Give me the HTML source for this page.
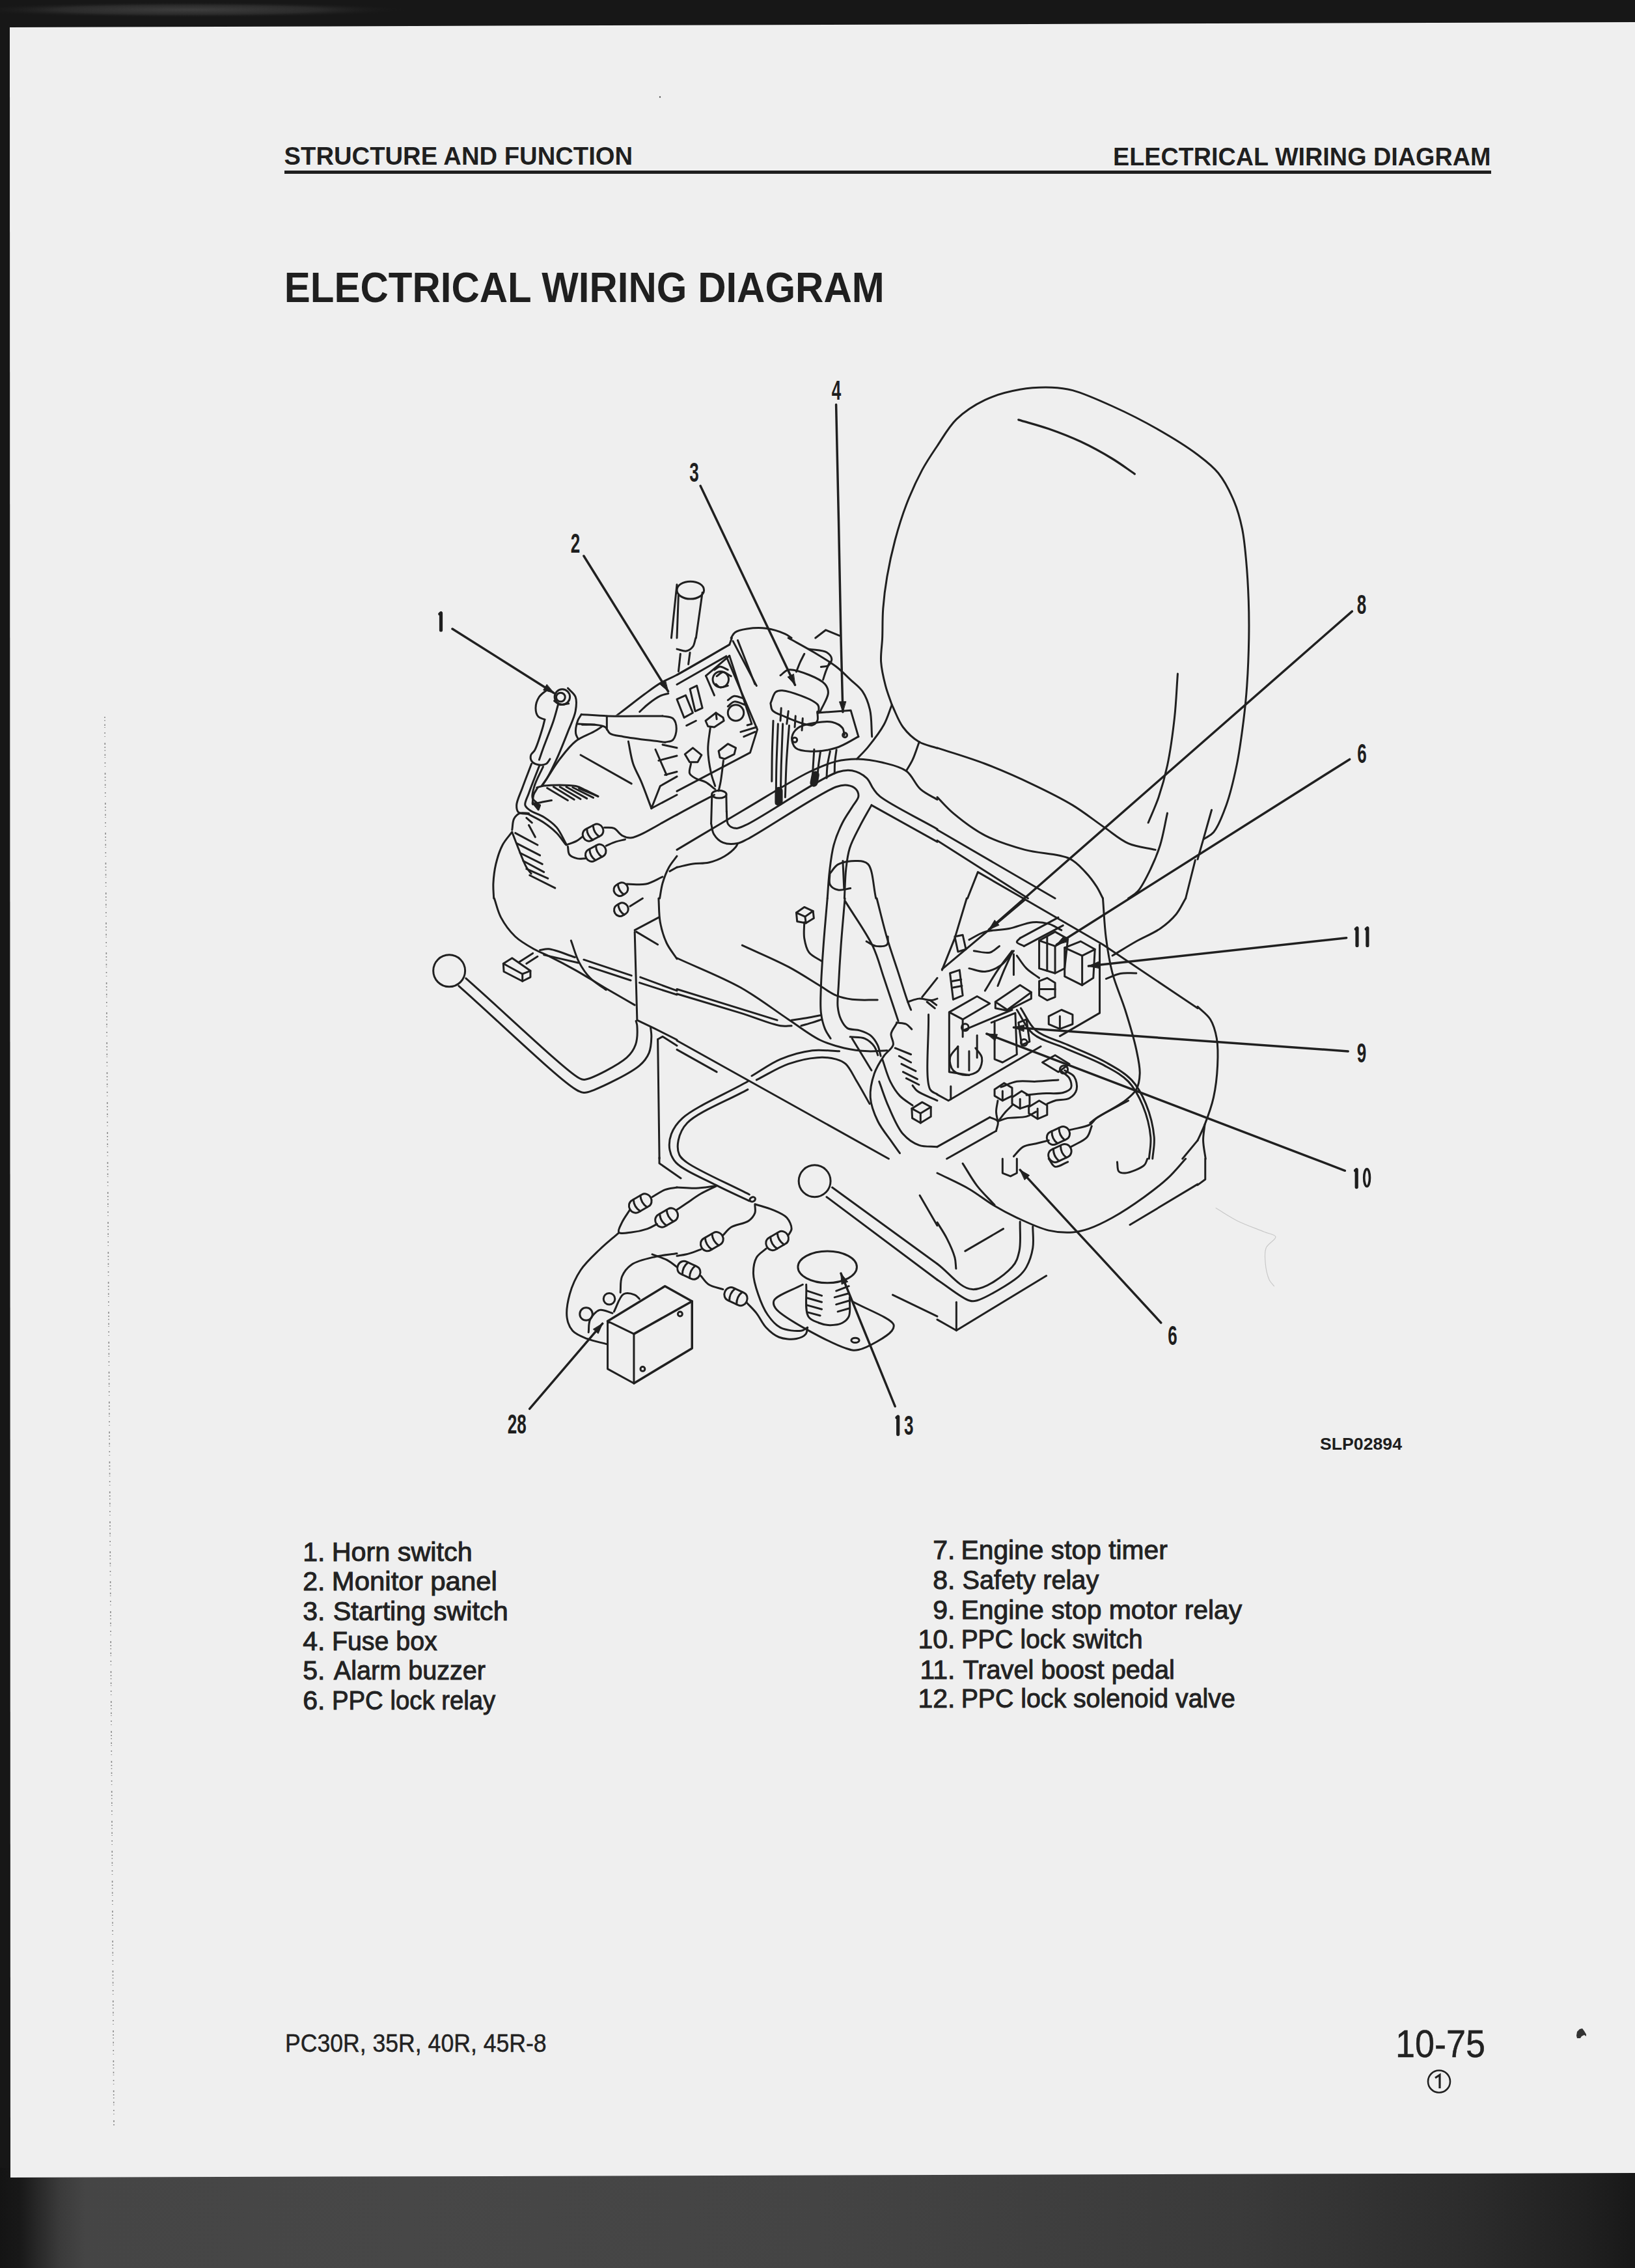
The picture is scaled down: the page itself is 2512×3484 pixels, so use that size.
<!DOCTYPE html>
<html><head><meta charset="utf-8">
<style>
html,body{margin:0;padding:0;}
body{width:2512px;height:3484px;position:relative;overflow:hidden;background:#171717;font-family:"Liberation Sans",sans-serif;color:#1f1f1f;}
#bg{position:absolute;left:0;top:0;}
.t{position:absolute;white-space:nowrap;line-height:1;}
.hb{font-weight:bold;font-size:37px;}
.title{font-weight:bold;font-size:61px;}
.leg{font-size:39px;}
.leg div{position:absolute;white-space:nowrap;}
.num{text-align:right;}
#diag *{vector-effect:non-scaling-stroke;}
</style></head>
<body>
<svg id="bg" width="2512" height="3484" viewBox="0 0 2512 3484">
<defs>
<linearGradient id="bot" x1="0" y1="0" x2="2512" y2="0" gradientUnits="userSpaceOnUse">
<stop offset="0" stop-color="#141414"/>
<stop offset="0.012" stop-color="#181818"/>
<stop offset="0.036" stop-color="#3a3a3a"/>
<stop offset="0.052" stop-color="#454545"/>
<stop offset="0.25" stop-color="#474747"/>
<stop offset="0.5" stop-color="#444444"/>
<stop offset="0.76" stop-color="#3a3a3a"/>
<stop offset="0.9" stop-color="#2c2c2c"/>
<stop offset="0.97" stop-color="#202020"/>
<stop offset="1" stop-color="#181818"/>
</linearGradient>
<radialGradient id="glare"><stop offset="0" stop-color="#3e3e3e"/><stop offset="0.6" stop-color="#2a2a2a"/><stop offset="1" stop-color="#171717" stop-opacity="0"/></radialGradient>
<linearGradient id="topg" x1="0" y1="0" x2="2512" y2="0" gradientUnits="userSpaceOnUse">
<stop offset="0" stop-color="#161616"/>
<stop offset="0.05" stop-color="#1c1c1c"/>
<stop offset="0.2" stop-color="#262626"/>
<stop offset="0.4" stop-color="#1c1c1c"/>
<stop offset="1" stop-color="#161616"/>
</linearGradient>
</defs>
<rect x="0" y="3330" width="2512" height="154" fill="url(#bot)"/>
<rect x="0" y="0" width="2512" height="42" fill="#171717"/>
<ellipse cx="290" cy="15" rx="340" ry="12" fill="url(#glare)"/>
<polygon points="15,42 2512,34 2512,3338 16,3345" fill="#efefef"/>
<path d="M161 1101 L175 3265" stroke="#3a3a3a" stroke-width="1.6" stroke-dasharray="2 3 1.5 5 2.5 2 1 7 2 4 1 9 3 3" opacity="0.55"/>

<g id="hdr" font-family="Liberation Sans" font-weight="bold" fill="#1f1f1f">
<text x="0" y="0" font-size="38" transform="translate(436.6 253) scale(1.0057 1)">STRUCTURE AND FUNCTION</text>
<text x="1710" y="253.6" font-size="38" transform="translate(1713 0) scale(0.994 1) translate(-1713 0)">ELECTRICAL WIRING DIAGRAM</text>
<rect x="437" y="262" width="1854" height="5"/>
<text x="0" y="0" font-size="64" transform="translate(436.8 463.9) scale(0.9374 1)">ELECTRICAL WIRING DIAGRAM</text>
</g>
<g id="legend" font-family="Liberation Sans" font-size="41" fill="#222" stroke="#222" stroke-width="1.0">
<text x="499.5" y="2397.5" text-anchor="end">1.</text><text transform="translate(509.77 2397.5) scale(1.0087 1)">Horn switch</text>
<text x="499.5" y="2442.8" text-anchor="end">2.</text><text transform="translate(509.73 2442.8) scale(1.0236 1)">Monitor panel</text>
<text x="499.5" y="2488.7" text-anchor="end">3.</text><text transform="translate(511.79 2488.7) scale(1.0088 1)">Starting switch</text>
<text x="499.5" y="2534.5" text-anchor="end">4.</text><text transform="translate(509.92 2534.5) scale(0.9600 1)">Fuse box</text>
<text x="499.5" y="2579.8" text-anchor="end">5.</text><text transform="translate(512.80 2579.8) scale(0.9658 1)">Alarm buzzer</text>
<text x="499.5" y="2625.7" text-anchor="end">6.</text><text transform="translate(510.00 2625.7) scale(0.9347 1)">PPC lock relay</text>
<text x="1467.4" y="2395" text-anchor="end">7.</text><text transform="translate(1476.52 2395) scale(0.9946 1)">Engine stop timer</text>
<text x="1467.4" y="2441" text-anchor="end">8.</text><text transform="translate(1478.53 2441) scale(0.9688 1)">Safety relay</text>
<text x="1467.4" y="2487" text-anchor="end">9.</text><text transform="translate(1476.51 2487) scale(0.9972 1)">Engine stop motor relay</text>
<text x="1467.4" y="2532.4" text-anchor="end">10.</text><text transform="translate(1476.65 2532.4) scale(0.9497 1)">PPC lock switch</text>
<text x="1467.4" y="2578.5" text-anchor="end">11.</text><text transform="translate(1479.50 2578.5) scale(0.9694 1)">Travel boost pedal</text>
<text x="1467.4" y="2623" text-anchor="end">12.</text><text transform="translate(1476.63 2623) scale(0.9579 1)">PPC lock solenoid valve</text>
</g>
<g id="foot" font-family="Liberation Sans" fill="#222" stroke="#222" stroke-width="0.5">
<text x="0" y="0" font-size="39" transform="translate(438 3151.7) scale(0.913 1)">PC30R, 35R, 40R, 45R-8</text>
<text x="0" y="0" font-size="59.6" transform="translate(2144 3160) scale(0.906 1)">10-75</text>
</g>
<circle cx="2211" cy="3197.5" r="17" fill="none" stroke="#222" stroke-width="2.6"/>
<path d="M2205 3192 L2212 3187.5 L2212 3208" fill="none" stroke="#222" stroke-width="3.2"/>
<g id="labels" font-family="Liberation Sans" font-weight="bold" font-size="42" fill="#1e1e1e" text-anchor="middle">
<text transform="translate(884 849) scale(0.62 1)">2</text>
<text transform="translate(1066.6 740) scale(0.62 1)">3</text>
<text transform="translate(1285 614) scale(0.62 1)">4</text>
<text transform="translate(2092 943) scale(0.62 1)">8</text>
<text transform="translate(2092.5 1172) scale(0.62 1)">6</text>
<text transform="translate(2092 1632) scale(0.62 1)">9</text>
<text transform="translate(1801.5 2066) scale(0.62 1)">6</text>
<text transform="translate(794.3 2202) scale(0.62 1)">28</text>
<text transform="translate(1396.2 2204.3) scale(0.62 1)">3</text>
<text x="2028" y="2227" font-size="26" text-anchor="start" textLength="126" lengthAdjust="spacingAndGlyphs">SLP02894</text>
<g stroke="#1e1e1e" stroke-width="5.2" fill="none" stroke-linecap="round" stroke-linejoin="round">
<path d="M675.9 943.2 L677.5 941.8 L677.5 968.0"/>
<path d="M2083.4 1427.2 L2085.0 1425.8 L2085.0 1452.5"/>
<path d="M2099.3 1427.2 L2100.9 1425.8 L2100.9 1452.5"/>
<path d="M2082.6 1798.2 L2084.2 1796.8 L2084.2 1823.6"/>
<path d="M1378.1 2177.7 L1379.7 2176.3 L1379.7 2203.3"/>
<ellipse cx="2100.1" cy="1809.2" rx="4.4" ry="13.3" stroke-width="3.6"/>
</g>
</g>
<path d="M2423 3121 L2427 3117 L2431 3116 L2434 3120 L2437 3125 L2437 3128 L2434 3126 L2430 3128 L2428 3131 L2423 3131 L2422 3127 Z" fill="#333"/>
<circle cx="1014" cy="149" r="1.2" fill="#555"/>
<g id="diag" fill="none" stroke="#202020" stroke-linecap="round" stroke-linejoin="round">
<g transform="translate(0 0) scale(1.000000)">
<path d="M1370.3 1082.8 C1367.0 1073.0 1363.2 1063.8 1360.5 1053.4 C1357.5 1041.9 1354.4 1029.0 1353.6 1016.7 C1352.8 1004.5 1355.1 992.9 1355.6 980.0 C1356.2 965.7 1355.6 950.1 1356.8 934.7 C1358.0 918.7 1360.0 902.6 1362.9 885.8 C1366.0 867.6 1370.3 847.9 1375.2 829.5 C1380.1 811.2 1385.5 793.4 1392.3 775.7 C1399.3 757.6 1408.2 737.9 1416.8 721.9 C1424.2 708.2 1431.6 697.5 1440.0 685.0 C1449.0 671.6 1457.4 655.8 1469.4 644.1 C1481.7 632.1 1497.4 621.9 1513.4 614.3 C1529.9 606.5 1549.5 601.4 1567.2 598.3 C1583.7 595.4 1601.6 594.7 1616.1 595.2 C1627.9 595.6 1635.9 596.4 1648.0 599.6 C1665.3 604.2 1688.4 614.6 1709.1 624.0 C1731.5 634.1 1755.6 646.2 1777.6 658.8 C1799.2 671.1 1823.1 685.7 1840.0 698.5 C1852.8 708.2 1862.7 715.4 1871.8 726.8 C1881.7 739.2 1890.1 756.0 1896.3 770.8 C1902.1 784.5 1905.5 797.8 1908.5 812.4 C1911.7 827.9 1913.0 844.1 1914.6 861.3 C1916.4 880.5 1917.6 902.4 1918.3 922.5 C1919.0 942.0 1919.1 959.7 1918.8 980.0 C1918.4 1003.0 1917.4 1030.9 1915.8 1053.4 C1914.5 1072.7 1912.9 1088.2 1910.5 1107.2 C1907.8 1128.7 1904.6 1153.6 1900.0 1175.7 C1895.6 1196.8 1890.6 1218.7 1884.0 1236.9 C1878.4 1252.4 1871.8 1269.8 1864.5 1278.5 C1859.9 1283.9 1854.7 1285.4 1849.8 1288.8" stroke-width="3.0"/>
<path d="M832.0 1207.5 C834.9 1203.4 837.2 1200.3 840.6 1195.3 C845.8 1187.6 852.9 1175.3 860.2 1165.9 C867.6 1156.3 875.2 1145.9 884.6 1138.5 C894.0 1131.1 905.9 1128.3 916.7 1121.5 C928.8 1113.9 941.2 1103.7 953.4 1094.6 C965.7 1085.4 979.0 1074.6 990.1 1066.5 C999.0 1060.0 1006.2 1054.4 1014.6 1049.4 C1022.8 1044.5 1029.3 1042.5 1040.0 1036.8 C1059.5 1026.4 1093.8 1005.8 1120.7 990.3" stroke-width="3.0"/>
<path d="M982.8 1093.4 C987.3 1089.3 991.2 1085.1 996.2 1081.2 C1001.7 1076.9 1008.9 1071.6 1014.6 1068.9 C1018.9 1066.9 1022.7 1066.5 1026.8 1065.3" stroke-width="3.0"/>
<path d="M1148.9 1661.3 C1115.5 1680.1 1067.3 1700.7 1048.6 1717.6 C1039.0 1726.2 1034.6 1733.5 1031.4 1742.1 C1028.5 1749.9 1027.6 1759.0 1029.0 1766.5 C1030.3 1773.6 1032.6 1779.6 1038.8 1786.1 C1049.9 1797.7 1080.2 1810.2 1099.9 1820.4 C1117.6 1829.6 1134.2 1836.7 1151.3 1844.8" stroke-width="3.0"/>
<path d="M1148.9 1673.6 C1117.9 1690.7 1072.3 1708.1 1055.9 1725.0 C1047.2 1734.0 1044.0 1743.1 1042.2 1751.9 C1040.7 1759.4 1041.0 1768.0 1043.7 1773.9 C1046.1 1779.1 1049.3 1781.3 1055.9 1786.1 C1072.2 1798.0 1119.5 1818.7 1151.3 1835.0" stroke-width="3.0"/>
<path d="M1013.0 1778.0 L1013.0 1787.0 L1046.0 1810.0" stroke-width="3.0"/>
<path d="M2077.3 939.1 L1519.5 1427.7" stroke-width="3.5"/>
<path d="M1519.5 1427.7 L1528.2 1413.4 L1534.8 1420.9 Z" fill="#202020" stroke-width="1"/>
<path d="M2073.6 1166.4 L1623.5 1450.9" stroke-width="3.5"/>
<path d="M1623.5 1450.9 L1634.4 1438.1 L1639.7 1446.6 Z" fill="#202020" stroke-width="1"/>
<path d="M2066.3 1798.3 L1515.8 1588.0" stroke-width="3.5"/>
<path d="M1515.8 1588.0 L1532.5 1589.0 L1529.0 1598.4 Z" fill="#202020" stroke-width="1"/>
<path d="M2071.2 1614.9 L1557.4 1578.2" stroke-width="3.5"/>
<path d="M1557.4 1578.2 L1573.7 1574.4 L1573.0 1584.3 Z" fill="#202020" stroke-width="1"/>
<path d="M2068.7 1440.7 L1672.4 1484.0" stroke-width="3.5"/>
<path d="M1672.4 1484.0 L1687.8 1477.3 L1688.8 1487.2 Z" fill="#202020" stroke-width="1"/>
<path d="M1284.6 621.6 L1288.5 800.0 L1292.0 980.0 L1294.9 1093.8" stroke-width="3.5"/>
<path d="M1294.9 1093.8 L1289.5 1077.9 L1299.5 1077.7 Z" fill="#202020" stroke-width="1"/>
<path d="M1076.2 746.4 L1221.5 1052.2" stroke-width="3.5"/>
<path d="M1221.5 1052.2 L1210.1 1039.9 L1219.1 1035.6 Z" fill="#202020" stroke-width="1"/>
<path d="M896.9 854.0 L1026.5 1062.0" stroke-width="3.5"/>
<path d="M1026.5 1062.0 L1013.8 1051.1 L1022.3 1045.8 Z" fill="#202020" stroke-width="1"/>
<path d="M695.0 966.0 L850.9 1064.4" stroke-width="3.5"/>
<path d="M850.9 1064.4 L834.7 1060.1 L840.0 1051.6 Z" fill="#202020" stroke-width="1"/>
</g>
<g transform="translate(1040 1380) scale(0.244648)">
<path d="M750.0 90.0 L800.0 55.0 L855.0 80.0 L860.0 125.0 L810.0 155.0 L755.0 145.0 Z" stroke-width="3.0"/>
<path d="M750.0 90.0 L805.0 115.0 L855.0 80.0" stroke-width="3.0"/>
<path d="M805.0 115.0 L810.0 155.0" stroke-width="3.0"/>
<path d="M800.0 150.0 C800.0 183.3 794.8 217.9 800.0 250.0 C805.1 281.2 811.9 315.9 830.0 340.0 C848.3 364.4 883.3 376.7 910.0 395.0" stroke-width="3.0"/>
<path d="M945.0 0.0 C936.7 100.0 926.8 204.5 920.0 300.0 C913.8 387.1 907.3 474.6 905.0 550.0 C903.1 612.1 899.0 671.1 905.0 720.0 C909.7 758.1 918.4 791.6 930.0 820.0 C939.5 843.3 953.3 860.0 965.0 880.0" stroke-width="3.0"/>
<path d="M1055.0 0.0 C1046.7 100.0 1036.8 204.5 1030.0 300.0 C1023.8 387.1 1018.4 480.2 1015.0 550.0 C1012.5 600.3 1006.1 642.1 1010.0 680.0 C1013.1 710.1 1019.1 736.7 1030.0 760.0 C1039.9 781.1 1051.4 803.2 1070.0 815.0 C1090.4 827.9 1125.2 822.1 1150.0 830.0 C1173.3 837.4 1196.8 845.3 1215.0 860.0 C1233.6 875.1 1249.1 898.1 1260.0 920.0 C1270.7 941.5 1273.3 966.7 1280.0 990.0" stroke-width="3.0"/>
<path d="M1058.0 20.0 C1115.3 113.3 1188.3 212.4 1230.0 300.0 C1263.4 370.4 1275.5 428.2 1300.0 500.0 C1328.4 583.2 1360.0 680.0 1390.0 770.0" stroke-width="3.0"/>
<path d="M1255.0 0.0 C1276.7 83.3 1297.1 171.6 1320.0 250.0 C1340.7 320.7 1363.3 383.3 1385.0 450.0 C1406.7 516.7 1434.0 605.7 1450.0 650.0 C1458.1 672.4 1463.3 683.3 1470.0 700.0" stroke-width="3.0"/>
<path d="M1190.0 270.0 C1210.0 280.0 1228.7 296.5 1250.0 300.0 C1271.9 303.6 1308.3 302.3 1320.0 290.0 C1329.9 279.7 1323.3 256.7 1325.0 240.0" stroke-width="3.0"/>
<path d="M410.0 295.0 C506.7 340.0 613.4 384.0 700.0 430.0 C774.0 469.3 844.8 516.9 900.0 550.0 C939.1 573.4 965.6 595.7 1000.0 610.0 C1032.4 623.4 1062.5 630.0 1100.0 635.0 C1146.8 641.2 1206.7 637.0 1260.0 638.0" stroke-width="3.0"/>
<path d="M0.0 375.0 C133.3 436.7 278.6 492.0 400.0 560.0 C509.8 621.5 609.9 700.7 700.0 760.0 C773.2 808.2 836.2 859.3 900.0 890.0 C951.9 915.0 999.4 928.3 1050.0 940.0 C1099.5 951.4 1152.7 957.8 1200.0 960.0 C1242.1 961.9 1280.0 956.7 1320.0 955.0" stroke-width="3.0"/>
<path d="M0.0 570.0 L630.0 765.0" stroke-width="3.0"/>
<path d="M0.0 600.0 C133.3 640.0 282.4 683.5 400.0 720.0 C493.2 748.9 591.8 790.9 650.0 800.0 C680.0 804.7 696.7 800.0 720.0 800.0" stroke-width="3.0"/>
<path d="M720.0 765.0 C753.3 760.0 788.6 755.3 820.0 750.0 C848.2 745.2 873.3 740.0 900.0 735.0" stroke-width="3.0"/>
<path d="M780.0 800.0 C803.3 793.3 827.6 786.9 850.0 780.0 C870.8 773.6 890.0 766.7 910.0 760.0" stroke-width="3.0"/>
<path d="M0.0 893.0 L1330.0 1635.0" stroke-width="3.0"/>
<path d="M0.0 950.0 L250.0 1090.0" stroke-width="3.0"/>
<path d="M470.0 1115.0 C530.0 1080.0 586.6 1036.7 650.0 1010.0 C713.3 983.4 785.5 962.7 850.0 955.0 C908.4 948.0 963.3 958.3 1020.0 960.0" stroke-width="3.0"/>
<path d="M500.0 1140.0 C566.7 1106.7 633.6 1063.6 700.0 1040.0 C760.3 1018.6 825.8 1003.7 880.0 1000.0 C923.8 997.0 967.6 1000.9 1000.0 1010.0 C1024.2 1016.8 1041.4 1023.2 1060.0 1040.0 C1086.0 1063.4 1106.4 1110.8 1130.0 1150.0 C1156.3 1193.6 1183.3 1243.3 1210.0 1290.0" stroke-width="3.0"/>
<path d="M1088.0 870.0 C1118.7 873.3 1154.0 868.9 1180.0 880.0 C1203.9 890.2 1226.2 911.0 1240.0 930.0 C1252.0 946.6 1254.7 966.7 1262.0 985.0" stroke-width="3.0"/>
<path d="M1100.0 880.0 L1222.0 1080.0" stroke-width="3.0"/>
<path d="M1380.0 785.0 C1368.3 806.7 1348.6 827.3 1345.0 850.0 C1341.5 872.3 1363.7 897.9 1358.0 920.0 C1351.5 944.9 1318.3 963.0 1300.0 990.0 C1278.5 1021.7 1254.1 1059.2 1240.0 1100.0 C1224.5 1145.0 1211.6 1200.4 1215.0 1250.0 C1218.5 1300.4 1239.5 1353.3 1262.0 1400.0 C1284.5 1446.6 1324.6 1493.5 1350.0 1530.0 C1368.8 1557.1 1383.3 1576.7 1400.0 1600.0" stroke-width="3.0"/>
<path d="M1370.0 940.0 L1470.0 980.0" stroke-width="3.0"/>
<path d="M1395.0 990.0 L1470.0 1030.0" stroke-width="3.0"/>
<path d="M1410.0 1040.0 L1500.0 1085.0" stroke-width="3.0"/>
<path d="M1420.0 1090.0 L1510.0 1135.0" stroke-width="3.0"/>
<path d="M1440.0 1130.0 L1520.0 1170.0" stroke-width="3.0"/>
<path d="M1290.0 1010.0 C1306.7 1056.7 1319.7 1109.5 1340.0 1150.0 C1357.3 1184.5 1376.1 1214.7 1400.0 1240.0 C1423.0 1264.3 1453.3 1280.0 1480.0 1300.0" stroke-width="3.0"/>
<path d="M1270.0 1150.0 C1290.0 1203.3 1306.0 1256.6 1330.0 1310.0 C1355.5 1366.6 1383.4 1438.6 1420.0 1480.0 C1449.1 1513.0 1483.6 1536.8 1520.0 1550.0 C1555.4 1562.9 1596.7 1556.7 1635.0 1560.0" stroke-width="3.0"/>
<path d="M1475.0 1320.0 L1540.0 1280.0 L1595.0 1310.0 L1595.0 1370.0 L1530.0 1410.0 L1478.0 1380.0 Z" stroke-width="3.0"/>
<path d="M1475.0 1320.0 L1530.0 1350.0 L1595.0 1310.0" stroke-width="3.0"/>
<path d="M1530.0 1350.0 L1530.0 1410.0" stroke-width="3.0"/>
<path d="M1580.0 730.0 C1583.3 886.7 1556.1 1138.3 1590.0 1200.0 C1601.5 1220.9 1620.0 1220.0 1635.0 1230.0" stroke-width="3.0"/>
<path d="M1480.0 1175.0 C1490.0 1186.7 1494.9 1198.4 1510.0 1210.0 C1536.2 1230.1 1593.3 1250.0 1635.0 1270.0" stroke-width="3.0"/>
<path d="M1450.0 650.0 C1473.3 643.3 1495.7 631.9 1520.0 630.0 C1545.6 628.0 1578.9 641.6 1600.0 640.0 C1614.2 638.9 1623.3 633.3 1635.0 630.0" stroke-width="3.0"/>
<path d="M1540.0 620.0 L1635.0 500.0" stroke-width="3.0"/>
<path d="M1380.0 780.0 C1400.0 783.3 1423.6 782.0 1440.0 790.0 C1454.5 797.0 1463.3 811.3 1475.0 822.0" stroke-width="3.0"/>
<path d="M1570.0 650.0 L1620.0 690.0" stroke-width="3.0"/>
<path d="M1590.0 640.0 L1630.0 670.0" stroke-width="3.0"/>
</g>
<g transform="translate(1040 1780) scale(0.244648)">
<ellipse cx="475.0" cy="255.0" rx="18.0" ry="14.0" transform="rotate(-25.0 475.0 255.0)" stroke-width="3.0"/>
<path d="M490.0 285.0 C526.7 296.7 565.9 305.3 600.0 320.0 C632.2 333.9 669.9 347.7 690.0 370.0 C707.3 389.2 720.6 420.0 720.0 440.0 C719.6 455.3 706.7 466.7 700.0 480.0" stroke-width="3.0"/>
<g transform="translate(630.0 515.0) rotate(-30.0)"><rect x="-75.0" y="-42.5" width="150.0" height="85.0" rx="38.63636363636363" ry="42.5" stroke-width="3.0"/><path d="M-25.0 -42.5 Q-46.25 0 -25.0 42.5" stroke-width="3.0"/><path d="M25.0 -42.5 Q3.75 0 25.0 42.5" stroke-width="3.0"/></g>
<path d="M560.0 565.0 C540.0 583.3 513.4 596.3 500.0 620.0 C485.0 646.6 479.5 684.5 480.0 720.0 C480.6 760.6 495.4 807.4 510.0 850.0 C525.1 894.1 544.7 943.7 570.0 980.0 C592.5 1012.2 616.8 1043.2 650.0 1060.0 C685.8 1078.1 749.6 1084.8 780.0 1080.0 C797.7 1077.2 806.7 1066.7 820.0 1060.0" stroke-width="3.0"/>
<path d="M490.0 290.0 C490.0 306.7 495.5 324.2 490.0 340.0 C483.7 357.8 469.2 376.2 450.0 390.0 C424.0 408.6 368.1 412.1 340.0 430.0 C318.2 443.9 306.7 463.3 290.0 480.0" stroke-width="3.0"/>
<g transform="translate(220.0 520.0) rotate(-30.0)"><rect x="-75.0" y="-42.5" width="150.0" height="85.0" rx="38.63636363636363" ry="42.5" stroke-width="3.0"/><path d="M-25.0 -42.5 Q-46.25 0 -25.0 42.5" stroke-width="3.0"/><path d="M25.0 -42.5 Q3.75 0 25.0 42.5" stroke-width="3.0"/></g>
<path d="M150.0 570.0 C120.0 580.0 87.2 593.2 60.0 600.0 C38.2 605.4 20.0 606.7 0.0 610.0" stroke-width="3.0"/>
<path d="M250.0 170.0 C216.7 186.7 181.9 201.5 150.0 220.0 C118.6 238.2 87.0 262.0 60.0 280.0 C38.0 294.7 20.0 306.7 0.0 320.0" stroke-width="3.0"/>
<path d="M0.0 180.0 C40.0 181.7 79.3 186.5 120.0 185.0 C162.5 183.4 206.7 175.0 250.0 170.0" stroke-width="3.0"/>
<g transform="translate(75.0 700.0) rotate(25.0)"><rect x="-75.0" y="-42.5" width="150.0" height="85.0" rx="38.63636363636363" ry="42.5" stroke-width="3.0"/><path d="M-25.0 -42.5 Q-46.25 0 -25.0 42.5" stroke-width="3.0"/><path d="M25.0 -42.5 Q3.75 0 25.0 42.5" stroke-width="3.0"/></g>
<g transform="translate(370.0 865.0) rotate(25.0)"><rect x="-75.0" y="-42.5" width="150.0" height="85.0" rx="38.63636363636363" ry="42.5" stroke-width="3.0"/><path d="M-25.0 -42.5 Q-46.25 0 -25.0 42.5" stroke-width="3.0"/><path d="M25.0 -42.5 Q3.75 0 25.0 42.5" stroke-width="3.0"/></g>
<path d="M150.0 735.0 C166.7 753.3 178.7 776.1 200.0 790.0 C224.1 805.7 260.0 810.0 290.0 820.0" stroke-width="3.0"/>
<path d="M440.0 905.0 C460.0 926.7 480.9 945.7 500.0 970.0 C521.1 996.8 536.1 1034.7 560.0 1060.0 C583.0 1084.3 609.3 1108.2 640.0 1120.0 C672.2 1132.4 719.5 1135.8 750.0 1130.0 C773.8 1125.5 798.8 1113.9 810.0 1100.0 C818.8 1089.1 816.7 1073.3 820.0 1060.0" stroke-width="3.0"/>
<circle cx="20.0" cy="975.0" r="14.0" stroke-width="3.0"/>
<circle cx="865.0" cy="140.0" r="100.0" stroke-width="3.0"/>
<path d="M940.0 240.0 L1635.0 760.0" stroke-width="3.0"/>
<path d="M975.0 180.0 L1635.0 660.0" stroke-width="3.0"/>
<ellipse cx="945.0" cy="680.0" rx="185.0" ry="100.0" transform="rotate(0.0 945.0 680.0)" stroke-width="3.0"/>
<path d="M812.0 790.0 C816.3 856.7 801.6 951.2 825.0 990.0 C839.4 1013.9 867.1 1020.8 890.0 1030.0 C912.2 1038.9 935.9 1044.7 960.0 1045.0 C985.7 1045.3 1019.2 1041.0 1040.0 1030.0 C1057.4 1020.8 1071.6 1009.1 1080.0 990.0 C1092.2 962.2 1083.3 910.0 1085.0 870.0" stroke-width="3.0"/>
<path d="M820.0 830.0 L910.0 860.0" stroke-width="3.0"/>
<path d="M820.0 875.0 L910.0 900.0" stroke-width="3.0"/>
<path d="M820.0 920.0 L910.0 945.0" stroke-width="3.0"/>
<path d="M825.0 965.0 L900.0 985.0" stroke-width="3.0"/>
<path d="M1000.0 830.0 L1080.0 800.0" stroke-width="3.0"/>
<path d="M990.0 870.0 L1080.0 845.0" stroke-width="3.0"/>
<path d="M1000.0 915.0 L1085.0 890.0" stroke-width="3.0"/>
<path d="M1010.0 960.0 L1080.0 940.0" stroke-width="3.0"/>
<path d="M790.0 790.0 C730.0 823.3 625.5 856.6 610.0 890.0 C602.3 906.6 606.3 921.0 620.0 940.0 C663.3 999.9 970.4 1160.3 1060.0 1190.0 C1095.8 1201.9 1108.3 1206.3 1140.0 1200.0 C1194.9 1189.0 1323.8 1114.5 1350.0 1080.0 C1360.8 1065.7 1366.3 1054.6 1360.0 1040.0 C1343.0 1000.8 1186.7 943.3 1100.0 895.0" stroke-width="3.0"/>
<ellipse cx="1120.0" cy="1140.0" rx="25.0" ry="15.0" transform="rotate(0.0 1120.0 1140.0)" stroke-width="3.0"/>
<path d="M1525.0 230.0 L1635.0 420.0" stroke-width="3.0"/>
<path d="M1355.0 855.0 L1635.0 990.0" stroke-width="3.0"/>
<path d="M1370.0 1555.0 L1030.0 720.0" stroke-width="3.5"/>
<path d="M1030.0 720.0 L1073.6 772.9 L1035.7 788.3 Z" fill="#202020" stroke-width="1"/>
</g>
<g transform="translate(1040 580) scale(0.244648)">
<ellipse cx="85.0" cy="1335.0" rx="85.0" ry="55.0" transform="rotate(0.0 85.0 1335.0)" stroke-width="3.0"/>
<path d="M160.0 1350.0 L120.0 1635.0" stroke-width="3.0"/>
<path d="M10.0 1360.0 L0.0 1635.0" stroke-width="3.0"/>
<path d="M340.0 1635.0 C348.3 1623.3 352.3 1609.0 365.0 1600.0 C382.1 1587.8 411.8 1582.4 440.0 1578.0 C475.0 1572.5 520.4 1569.8 560.0 1575.0 C600.4 1580.3 651.3 1597.2 680.0 1610.0 C697.6 1617.9 706.7 1626.7 720.0 1635.0" stroke-width="3.0"/>
<path d="M870.0 1635.0 L935.0 1585.0 L1020.0 1620.0" stroke-width="3.0"/>
</g>
<g transform="translate(1040 980) scale(0.244648)">
<path d="M0.0 70.0 C20.0 74.0 42.6 85.5 60.0 82.0 C75.4 78.9 90.4 67.7 100.0 55.0 C110.5 41.1 112.0 18.3 118.0 0.0" stroke-width="3.0"/>
<path d="M22.0 100.0 L10.0 210.0" stroke-width="3.0"/>
<path d="M82.0 92.0 L72.0 165.0" stroke-width="3.0"/>
<path d="M0.0 232.0 L330.0 42.0 L345.0 0.0" stroke-width="3.0"/>
<path d="M0.0 292.0 L310.0 115.0" stroke-width="3.0"/>
<path d="M310.0 115.0 L505.0 575.0 L460.0 720.0 L0.0 962.0" stroke-width="3.0"/>
<path d="M352.0 20.0 L500.0 300.0" stroke-width="3.0"/>
<path d="M382.0 15.0 L490.0 290.0" stroke-width="3.0"/>
<path d="M182.0 238.0 L330.0 112.0" stroke-width="3.0"/>
<path d="M182.0 238.0 L235.0 360.0" stroke-width="3.0"/>
<path d="M330.0 112.0 L470.0 540.0 L442.0 548.0" stroke-width="3.0"/>
<path d="M0.0 385.0 L55.0 360.0 L100.0 470.0 L45.0 500.0 Z" stroke-width="3.0"/>
<path d="M82.0 320.0 L125.0 300.0 L160.0 440.0 L115.0 460.0 Z" stroke-width="3.0"/>
<path d="M235.0 200.0 C246.7 193.3 257.1 180.9 270.0 180.0 C285.0 179.0 303.3 193.3 320.0 200.0" stroke-width="3.0"/>
<path d="M250.0 240.0 C263.3 231.7 275.7 215.7 290.0 215.0 C305.5 214.3 323.3 231.7 340.0 240.0" stroke-width="3.0"/>
<path d="M245.0 290.0 C253.3 296.7 259.5 307.4 270.0 310.0 C283.2 313.2 303.3 303.3 320.0 300.0" stroke-width="3.0"/>
<circle cx="275.0" cy="260.0" r="50.0" stroke-width="3.0"/>
<path d="M320.0 390.0 C333.3 381.7 344.7 367.4 360.0 365.0 C377.5 362.2 400.0 375.0 420.0 380.0" stroke-width="3.0"/>
<path d="M320.0 430.0 C333.3 420.0 343.9 403.0 360.0 400.0 C379.4 396.4 406.7 413.3 430.0 420.0" stroke-width="3.0"/>
<circle cx="370.0" cy="470.0" r="50.0" stroke-width="3.0"/>
<path d="M180.0 520.0 L245.0 470.0 L290.0 500.0 L295.0 520.0 L235.0 560.0 L195.0 555.0 Z" stroke-width="3.0"/>
<path d="M245.0 470.0 L250.0 510.0" stroke-width="3.0"/>
<path d="M50.0 730.0 L100.0 690.0 L155.0 735.0 L130.0 780.0 L80.0 780.0 Z" stroke-width="3.0"/>
<path d="M262.0 710.0 L320.0 665.0 L370.0 690.0 L360.0 730.0 L300.0 760.0 L270.0 750.0 Z" stroke-width="3.0"/>
<path d="M60.0 550.0 L120.0 520.0" stroke-width="3.0"/>
<path d="M400.0 590.0 L500.0 560.0" stroke-width="3.0"/>
<path d="M420.0 620.0 L490.0 590.0" stroke-width="3.0"/>
<path d="M210.0 560.0 C205.0 606.7 194.4 652.6 195.0 700.0 C195.6 749.2 205.7 808.1 215.0 850.0 C221.9 881.2 231.7 903.3 240.0 930.0" stroke-width="3.0"/>
<path d="M292.0 770.0 C286.3 813.3 281.1 865.0 275.0 900.0 C270.9 923.9 266.3 940.0 262.0 960.0" stroke-width="3.0"/>
<path d="M88.0 790.0 C85.3 810.0 73.9 834.3 80.0 850.0 C85.5 864.2 102.9 873.2 118.0 882.0 C135.4 892.2 160.2 894.2 180.0 905.0 C201.0 916.5 220.0 935.0 240.0 950.0" stroke-width="3.0"/>
<ellipse cx="265.0" cy="982.0" rx="46.0" ry="24.0" transform="rotate(0.0 265.0 982.0)" stroke-width="3.0"/>
<path d="M220.0 988.0 L215.0 1165.0" stroke-width="3.0"/>
<path d="M310.0 988.0 L312.0 1090.0" stroke-width="3.0"/>
<path d="M0.0 1110.0 C43.3 1086.7 88.9 1061.8 130.0 1040.0 C166.8 1020.5 200.0 1003.3 235.0 985.0" stroke-width="3.0"/>
<path d="M0.0 1440.0 C33.3 1432.7 66.5 1423.0 100.0 1418.0 C133.2 1413.0 167.2 1417.7 200.0 1410.0 C233.9 1402.0 270.8 1387.4 300.0 1370.0 C326.8 1354.1 357.0 1327.8 370.0 1312.0 C376.8 1303.7 378.0 1297.3 382.0 1290.0" stroke-width="3.0"/>
<path d="M215.0 1165.0 C220.7 1187.3 220.3 1212.5 232.0 1232.0 C244.5 1252.8 266.5 1275.1 290.0 1285.0 C315.2 1295.6 352.9 1294.8 380.0 1290.0 C404.0 1285.7 413.5 1278.0 445.0 1262.0 C540.1 1213.7 901.1 969.7 1000.0 935.0 C1032.8 923.5 1048.5 921.9 1070.0 925.0 C1089.9 927.9 1113.4 937.1 1125.0 950.0 C1135.3 961.4 1141.6 979.3 1140.0 995.0 C1138.0 1014.0 1118.6 1032.3 1105.0 1055.0 C1086.8 1085.2 1059.3 1121.5 1040.0 1160.0 C1018.7 1202.4 998.5 1250.3 985.0 1300.0 C970.5 1353.2 964.7 1413.6 958.0 1470.0 C951.4 1525.3 949.3 1580.0 945.0 1635.0" stroke-width="3.0"/>
<path d="M312.0 1090.0 C315.3 1116.7 309.8 1152.4 322.0 1170.0 C332.0 1184.4 352.6 1193.5 370.0 1195.0 C389.0 1196.6 401.9 1188.3 432.0 1175.0 C528.3 1132.3 898.6 877.8 1010.0 842.0 C1051.0 828.8 1070.6 827.5 1100.0 833.0 C1131.4 838.9 1169.5 859.2 1192.0 880.0 C1211.4 897.9 1217.6 925.3 1232.0 945.0 C1245.4 963.3 1251.1 975.3 1275.0 995.0 C1334.9 1044.3 1515.0 1131.7 1635.0 1200.0" stroke-width="3.0"/>
<path d="M1222.0 1050.0 L1635.0 1280.0" stroke-width="3.0"/>
<path d="M1222.0 1050.0 C1198.0 1093.3 1172.6 1135.5 1150.0 1180.0 C1126.9 1225.4 1099.7 1273.2 1085.0 1320.0 C1071.4 1363.2 1067.4 1402.7 1062.0 1450.0 C1055.5 1506.1 1055.3 1573.3 1052.0 1635.0" stroke-width="3.0"/>
<path d="M0.0 1330.0 C140.0 1246.7 280.6 1161.9 420.0 1080.0 C557.3 999.3 721.3 894.6 830.0 842.0 C897.5 809.4 945.7 788.5 1000.0 775.0 C1046.8 763.4 1088.5 759.3 1135.0 760.0 C1184.9 760.8 1239.4 769.6 1290.0 782.0 C1341.0 794.5 1399.5 805.9 1440.0 835.0 C1478.8 862.9 1495.8 919.4 1530.0 950.0 C1561.4 978.2 1600.0 993.3 1635.0 1015.0" stroke-width="3.0"/>
<path d="M1350.0 420.0 C1333.3 461.7 1322.7 503.5 1300.0 545.0 C1274.4 591.9 1231.6 646.4 1200.0 685.0 C1175.6 714.8 1153.3 735.0 1130.0 760.0" stroke-width="3.0"/>
<path d="M1350.0 420.0 C1373.3 466.7 1390.2 520.5 1420.0 560.0 C1447.7 596.8 1483.0 629.9 1520.0 652.0 C1555.0 673.0 1596.7 678.7 1635.0 692.0" stroke-width="3.0"/>
<path d="M1522.0 652.0 C1508.0 689.7 1495.3 732.4 1480.0 765.0 C1467.5 791.7 1453.3 811.7 1440.0 835.0" stroke-width="3.0"/>
<path d="M650.0 235.0 C666.7 223.3 678.3 204.1 700.0 200.0 C732.2 194.0 790.5 216.1 830.0 232.0 C866.7 246.8 910.7 266.9 930.0 290.0 C943.8 306.4 950.6 323.4 950.0 345.0 C949.1 376.9 916.7 423.0 900.0 462.0" stroke-width="3.0"/>
<path d="M590.0 405.0 C600.0 383.3 605.5 351.9 620.0 340.0 C631.3 330.8 642.8 328.6 662.0 330.0 C707.3 333.4 859.2 385.6 885.0 420.0 C896.8 435.7 888.3 453.3 890.0 470.0" stroke-width="3.0"/>
<path d="M588.0 410.0 C592.0 425.0 589.6 442.3 600.0 455.0 C614.4 472.7 650.3 482.0 680.0 495.0 C715.6 510.5 768.3 531.6 800.0 540.0 C819.9 545.3 836.0 552.0 850.0 548.0 C862.9 544.3 876.3 532.7 882.0 520.0 C888.7 505.2 882.0 481.3 882.0 462.0" stroke-width="3.0"/>
<path d="M655.0 440.0 L650.0 520.0" stroke-width="3.0"/>
<path d="M700.0 460.0 L690.0 540.0" stroke-width="3.0"/>
<path d="M745.0 490.0 L740.0 560.0" stroke-width="3.0"/>
<path d="M790.0 505.0 L785.0 580.0" stroke-width="3.0"/>
<path d="M800.0 100.0 C791.7 116.7 783.0 132.3 775.0 150.0 C766.3 169.4 758.3 191.3 750.0 212.0" stroke-width="3.0"/>
<path d="M960.0 150.0 C951.7 170.0 942.2 190.6 935.0 210.0 C928.4 227.8 923.7 244.7 918.0 262.0" stroke-width="3.0"/>
<path d="M882.0 470.0 L1092.0 455.0 L1140.0 620.0" stroke-width="3.0"/>
<path d="M1140.0 620.0 C1093.3 643.3 1049.6 674.7 1000.0 690.0 C949.7 705.6 886.3 714.1 840.0 712.0 C804.1 710.4 764.4 707.3 745.0 690.0 C728.7 675.4 719.7 645.7 722.0 625.0 C724.4 604.0 740.1 580.0 760.0 565.0 C785.5 545.8 835.1 538.1 872.0 532.0 C906.7 526.3 945.5 520.8 975.0 528.0 C1000.2 534.1 1027.6 548.9 1040.0 565.0 C1049.8 577.7 1048.0 595.0 1052.0 610.0" stroke-width="3.0"/>
<circle cx="1055.0" cy="610.0" r="14.0" stroke-width="3.0"/>
<circle cx="740.0" cy="640.0" r="15.0" stroke-width="3.0"/>
<path d="M700.0 0.0 C753.3 30.0 808.9 59.2 860.0 90.0 C908.7 119.3 959.6 148.9 1000.0 180.0 C1034.6 206.6 1061.6 235.2 1090.0 262.0 C1116.4 286.8 1145.1 305.5 1165.0 335.0 C1186.7 367.2 1201.8 407.0 1212.0 450.0 C1223.9 500.3 1220.7 563.3 1225.0 620.0" stroke-width="3.0"/>
<path d="M830.0 70.0 C866.7 76.7 915.9 75.2 940.0 90.0 C956.6 100.2 970.7 117.7 972.0 132.0 C973.2 145.1 962.8 163.6 952.0 172.0 C940.8 180.7 920.7 178.7 905.0 182.0" stroke-width="3.0"/>
<path d="M605.0 520.0 C602.7 586.7 599.5 655.1 598.0 720.0 C596.6 781.6 596.7 840.0 596.0 900.0" stroke-width="3.0"/>
<path d="M635.0 540.0 C631.7 626.7 627.2 715.1 625.0 800.0 C622.9 881.6 623.0 960.0 622.0 1040.0" stroke-width="3.0"/>
<path d="M665.0 540.0 C661.7 626.7 657.5 715.1 655.0 800.0 C652.6 881.6 651.7 960.0 650.0 1040.0" stroke-width="3.0"/>
<path d="M705.0 550.0 C699.3 626.7 692.2 704.1 688.0 780.0 C683.9 854.1 682.7 926.7 680.0 1000.0" stroke-width="3.0"/>
<path d="M862.0 700.0 C859.7 736.7 857.0 773.3 855.0 810.0 C853.0 846.7 851.7 883.3 850.0 920.0" stroke-width="3.0"/>
<path d="M902.0 710.0 C897.3 743.3 891.7 776.6 888.0 810.0 C884.3 843.3 882.7 876.7 880.0 910.0" stroke-width="3.0"/>
<path d="M962.0 712.0 C956.3 741.3 948.7 771.3 945.0 800.0 C941.5 827.2 941.7 853.3 940.0 880.0" stroke-width="3.0"/>
<path d="M1002.0 702.0 C998.7 728.0 994.0 754.7 992.0 780.0 C990.1 803.9 990.7 826.7 990.0 850.0" stroke-width="3.0"/>
<path d="M640.0 960.0 L640.0 1030.0" stroke-width="12.0"/>
<path d="M870.0 860.0 L860.0 910.0" stroke-width="12.0"/>
<path d="M960.0 1480.0 C977.3 1460.7 988.3 1435.3 1012.0 1422.0 C1041.5 1405.4 1095.9 1398.4 1130.0 1400.0 C1156.5 1401.2 1181.7 1400.8 1200.0 1420.0 C1231.9 1453.5 1233.3 1563.3 1250.0 1635.0" stroke-width="3.0"/>
<path d="M960.0 1480.0 C960.7 1503.3 952.3 1532.8 962.0 1550.0 C971.0 1565.9 992.6 1577.6 1012.0 1582.0 C1034.4 1587.0 1064.0 1575.3 1090.0 1572.0" stroke-width="3.0"/>
<path d="M1042.0 1400.0 L1050.0 1580.0" stroke-width="3.0"/>
</g>
<g transform="translate(1440 1380) scale(0.244648)">
<path d="M185.0 0.0 L110.0 250.0 L30.0 450.0" stroke-width="3.0"/>
<path d="M550.0 10.0 L30.0 445.0" stroke-width="3.0"/>
<path d="M540.0 0.0 L1040.0 290.0 L1635.0 690.0" stroke-width="3.0"/>
<path d="M1020.0 290.0 L1020.0 720.0 L770.0 865.0" stroke-width="3.0"/>
<path d="M650.0 930.0 L70.0 1270.0 L0.0 1232.0" stroke-width="3.0"/>
<path d="M85.0 1180.0 L85.0 1262.0" stroke-width="3.0"/>
<path d="M520.0 250.0 L760.0 120.0" stroke-width="3.0"/>
<path d="M545.0 300.0 L790.0 170.0" stroke-width="3.0"/>
<path d="M520.0 250.0 C513.3 258.3 498.5 267.4 500.0 275.0 C501.9 284.6 530.0 291.7 545.0 300.0" stroke-width="3.0"/>
<path d="M640.0 265.0 L740.0 210.0 L820.0 255.0 L740.0 300.0 Z" stroke-width="3.0"/>
<path d="M640.0 265.0 L640.0 440.0 L740.0 470.0 L740.0 300.0" stroke-width="3.0"/>
<path d="M820.0 255.0 L800.0 440.0 L740.0 470.0" stroke-width="3.0"/>
<path d="M690.0 240.0 L690.0 455.0" stroke-width="3.0"/>
<path d="M800.0 310.0 L900.0 270.0 L990.0 320.0 L910.0 360.0 Z" stroke-width="3.0"/>
<path d="M800.0 310.0 L800.0 490.0 L910.0 545.0 L910.0 360.0" stroke-width="3.0"/>
<path d="M910.0 545.0 L980.0 500.0 L990.0 320.0" stroke-width="3.0"/>
<path d="M80.0 470.0 L140.0 450.0 L160.0 610.0 L100.0 635.0 Z" stroke-width="3.0"/>
<path d="M95.0 520.0 L150.0 510.0" stroke-width="3.0"/>
<path d="M100.0 560.0 L155.0 550.0" stroke-width="3.0"/>
<path d="M110.0 240.0 L160.0 230.0 L180.0 320.0 L130.0 335.0 Z" stroke-width="3.0"/>
<path d="M200.0 260.0 C233.3 243.3 262.2 221.6 300.0 210.0 C344.0 196.5 400.3 199.9 450.0 190.0 C500.3 180.0 554.7 153.6 600.0 150.0 C636.4 147.1 669.3 151.1 700.0 160.0 C729.0 168.4 753.3 186.7 780.0 200.0" stroke-width="3.0"/>
<path d="M200.0 440.0 C233.3 446.7 267.1 463.0 300.0 460.0 C333.8 456.9 370.6 440.6 400.0 420.0 C431.1 398.2 453.3 360.0 480.0 330.0" stroke-width="3.0"/>
<path d="M230.0 330.0 C263.3 333.3 301.9 347.0 330.0 340.0 C353.8 334.1 370.0 313.3 390.0 300.0" stroke-width="3.0"/>
<path d="M470.0 330.0 C440.0 370.0 408.2 408.5 380.0 450.0 C351.5 491.8 326.7 536.7 300.0 580.0" stroke-width="3.0"/>
<path d="M470.0 340.0 C453.3 376.7 435.4 414.0 420.0 450.0 C405.5 484.0 393.3 516.7 380.0 550.0" stroke-width="3.0"/>
<path d="M480.0 350.0 L480.0 480.0" stroke-width="3.0"/>
<path d="M500.0 360.0 C520.0 386.7 536.7 416.7 560.0 440.0 C583.3 463.3 613.3 480.0 640.0 500.0" stroke-width="3.0"/>
<path d="M365.0 650.0 L520.0 545.0 L590.0 590.0 L440.0 700.0 Z" stroke-width="3.0"/>
<path d="M365.0 650.0 L365.0 690.0 L440.0 705.0 L590.0 630.0 L590.0 590.0" stroke-width="3.0"/>
<path d="M75.0 715.0 L250.0 615.0 L330.0 660.0 L160.0 760.0 Z" stroke-width="3.0"/>
<path d="M75.0 715.0 L75.0 1090.0 L200.0 1110.0" stroke-width="3.0"/>
<path d="M160.0 760.0 L160.0 870.0" stroke-width="3.0"/>
<path d="M360.0 770.0 L360.0 1010.0 L410.0 1030.0 L500.0 980.0 L490.0 720.0 L340.0 780.0" stroke-width="3.0"/>
<path d="M160.0 830.0 L470.0 700.0" stroke-width="3.0"/>
<circle cx="175.0" cy="810.0" r="22.0" stroke-width="3.0"/>
<path d="M130.0 930.0 C113.3 953.3 84.8 974.7 80.0 1000.0 C75.3 1024.8 83.7 1061.7 100.0 1080.0 C116.6 1098.6 153.3 1110.0 180.0 1110.0 C206.7 1110.0 243.4 1098.6 260.0 1080.0 C276.3 1061.7 284.1 1023.9 280.0 1000.0 C276.1 977.6 253.3 960.0 240.0 940.0" stroke-width="3.0"/>
<path d="M130.0 930.0 L130.0 1060.0" stroke-width="3.0"/>
<path d="M200.0 960.0 L200.0 1080.0" stroke-width="3.0"/>
<path d="M250.0 860.0 L250.0 1000.0" stroke-width="3.0"/>
<path d="M640.0 520.0 L690.0 500.0 L740.0 530.0 L740.0 620.0 L690.0 640.0 L640.0 610.0 Z" stroke-width="3.0"/>
<path d="M640.0 570.0 L740.0 570.0" stroke-width="3.0"/>
<path d="M700.0 740.0 L780.0 700.0 L850.0 730.0 L850.0 790.0 L770.0 820.0 L700.0 790.0 Z" stroke-width="3.0"/>
<path d="M770.0 740.0 L770.0 820.0" stroke-width="3.0"/>
<path d="M510.0 780.0 L560.0 760.0 L580.0 900.0 L530.0 920.0 Z" stroke-width="3.0"/>
<circle cx="545.0" cy="905.0" r="20.0" stroke-width="3.0"/>
<path d="M500.0 700.0 C533.3 750.0 553.8 810.8 600.0 850.0 C651.0 893.2 729.5 908.6 800.0 940.0 C878.6 975.0 978.7 1010.9 1050.0 1050.0 C1107.9 1081.7 1159.8 1107.9 1200.0 1150.0 C1239.6 1191.5 1267.0 1244.5 1290.0 1300.0 C1314.9 1360.2 1334.8 1439.5 1340.0 1500.0 C1344.2 1549.0 1333.3 1590.0 1330.0 1635.0" stroke-width="3.0"/>
<path d="M525.0 690.0 C556.7 736.7 575.8 792.8 620.0 830.0 C670.4 872.3 750.4 888.4 820.0 920.0 C896.4 954.7 989.6 990.1 1060.0 1030.0 C1120.4 1064.3 1177.8 1095.1 1220.0 1140.0 C1260.0 1182.6 1286.8 1233.9 1310.0 1290.0 C1335.8 1352.4 1356.7 1437.3 1362.0 1500.0 C1366.2 1549.6 1355.3 1590.0 1352.0 1635.0" stroke-width="3.0"/>
<path d="M1040.0 0.0 C1046.7 83.3 1049.5 169.6 1060.0 250.0 C1069.9 325.9 1080.7 396.6 1100.0 470.0 C1120.2 546.6 1155.3 621.3 1180.0 700.0 C1205.5 781.2 1234.5 876.8 1250.0 950.0 C1261.9 1005.9 1273.6 1055.2 1272.0 1100.0 C1270.7 1136.8 1265.6 1171.5 1250.0 1200.0 C1234.7 1228.0 1210.6 1245.9 1180.0 1270.0 C1135.4 1305.1 1038.1 1354.2 1000.0 1380.0 C981.5 1392.6 973.3 1400.0 960.0 1410.0" stroke-width="3.0"/>
<path d="M1560.0 0.0 C1540.0 33.3 1525.3 69.3 1500.0 100.0 C1472.8 133.0 1438.6 163.0 1400.0 190.0 C1356.6 220.4 1299.6 241.9 1250.0 270.0 C1199.6 298.5 1150.0 330.0 1100.0 360.0" stroke-width="3.0"/>
<path d="M1060.0 505.0 C1090.0 494.0 1118.7 477.9 1150.0 472.0 C1182.0 466.0 1216.7 470.7 1250.0 470.0" stroke-width="3.0"/>
<path d="M660.0 1030.0 L740.0 985.0 L830.0 1040.0 L760.0 1090.0 Z" stroke-width="3.0"/>
<circle cx="795.0" cy="1075.0" r="25.0" stroke-width="3.0"/>
<path d="M800.0 1080.0 C820.0 1093.3 847.4 1101.0 860.0 1120.0 C873.4 1140.2 880.9 1177.0 875.0 1200.0 C869.5 1221.5 850.4 1243.2 830.0 1255.0 C806.9 1268.4 765.3 1262.9 740.0 1270.0 C720.6 1275.4 706.7 1283.3 690.0 1290.0" stroke-width="3.0"/>
<path d="M780.0 1085.0 C796.7 1100.0 820.1 1111.9 830.0 1130.0 C839.4 1147.2 847.0 1174.9 840.0 1190.0 C833.2 1204.7 811.6 1213.6 790.0 1220.0 C757.7 1229.6 700.5 1222.2 660.0 1225.0 C624.4 1227.5 593.3 1231.7 560.0 1235.0" stroke-width="3.0"/>
<path d="M400.0 1185.0 C433.3 1173.3 464.6 1156.0 500.0 1150.0 C537.7 1143.6 578.5 1151.5 620.0 1150.0 C664.9 1148.4 713.3 1143.3 760.0 1140.0" stroke-width="3.0"/>
<path d="M360.0 1200.0 L420.0 1160.0 L470.0 1190.0 L470.0 1240.0 L410.0 1270.0 L360.0 1240.0 Z" stroke-width="3.0"/>
<path d="M410.0 1210.0 L410.0 1270.0" stroke-width="3.0"/>
<path d="M470.0 1250.0 L530.0 1210.0 L580.0 1240.0 L580.0 1300.0 L520.0 1320.0 L470.0 1290.0 Z" stroke-width="3.0"/>
<path d="M520.0 1260.0 L520.0 1320.0" stroke-width="3.0"/>
<path d="M575.0 1310.0 L640.0 1270.0 L690.0 1300.0 L690.0 1360.0 L630.0 1385.0 L575.0 1350.0 Z" stroke-width="3.0"/>
<path d="M630.0 1320.0 L630.0 1385.0" stroke-width="3.0"/>
<path d="M380.0 1270.0 C376.7 1293.3 369.7 1317.6 370.0 1340.0 C370.2 1360.8 376.7 1380.0 380.0 1400.0" stroke-width="3.0"/>
<path d="M470.0 1300.0 C456.7 1313.3 442.9 1325.5 430.0 1340.0 C416.2 1355.4 403.3 1373.3 390.0 1390.0" stroke-width="3.0"/>
<path d="M0.0 1560.0 L330.0 1375.0" stroke-width="3.0"/>
<path d="M60.0 1635.0 L370.0 1460.0" stroke-width="3.0"/>
<path d="M330.0 1375.0 C346.7 1383.3 373.1 1386.4 380.0 1400.0 C387.2 1414.2 373.3 1440.0 370.0 1460.0" stroke-width="3.0"/>
<path d="M380.0 1400.0 C400.0 1393.3 416.2 1384.9 440.0 1380.0 C472.8 1373.3 527.6 1379.1 560.0 1370.0 C584.2 1363.2 600.0 1350.0 620.0 1340.0" stroke-width="3.0"/>
<g transform="translate(760.0 1490.0) rotate(-25.0)"><rect x="-75.0" y="-42.5" width="150.0" height="85.0" rx="38.63636363636363" ry="42.5" stroke-width="3.0"/><path d="M-25.0 -42.5 Q-46.25 0 -25.0 42.5" stroke-width="3.0"/><path d="M25.0 -42.5 Q3.75 0 25.0 42.5" stroke-width="3.0"/></g>
<g transform="translate(770.0 1600.0) rotate(-25.0)"><rect x="-75.0" y="-42.5" width="150.0" height="85.0" rx="38.63636363636363" ry="42.5" stroke-width="3.0"/><path d="M-25.0 -42.5 Q-46.25 0 -25.0 42.5" stroke-width="3.0"/><path d="M25.0 -42.5 Q3.75 0 25.0 42.5" stroke-width="3.0"/></g>
<path d="M830.0 1455.0 C873.3 1443.3 930.5 1437.1 960.0 1420.0 C979.1 1408.9 980.1 1395.0 1000.0 1380.0 C1040.0 1349.9 1133.3 1306.7 1200.0 1270.0" stroke-width="3.0"/>
<path d="M840.0 1560.0 C873.3 1540.0 918.3 1524.9 940.0 1500.0 C957.6 1479.9 960.0 1453.3 970.0 1430.0" stroke-width="3.0"/>
<path d="M700.0 1520.0 C673.3 1526.7 646.7 1533.3 620.0 1540.0 C593.3 1546.7 563.2 1546.9 540.0 1560.0 C516.4 1573.3 500.0 1600.0 480.0 1620.0" stroke-width="3.0"/>
<path d="M1635.0 1520.0 L1540.0 1635.0" stroke-width="3.0"/>
</g>
<g transform="translate(1440 1780) scale(0.244648)">
<path d="M410.0 0.0 L410.0 90.0 L460.0 110.0 L500.0 90.0 L500.0 0.0" stroke-width="3.0"/>
<path d="M700.0 0.0 C713.3 16.7 722.1 45.1 740.0 50.0 C760.6 55.7 793.3 30.0 820.0 20.0" stroke-width="3.0"/>
<path d="M1130.0 20.0 C1133.3 40.0 1129.6 68.7 1140.0 80.0 C1148.6 89.3 1163.4 91.2 1180.0 90.0 C1209.6 87.8 1278.0 60.5 1300.0 40.0 C1312.9 28.0 1313.3 13.3 1320.0 0.0" stroke-width="3.0"/>
<path d="M0.0 90.0 C66.7 123.3 139.1 154.7 200.0 190.0 C254.7 221.7 299.2 259.6 350.0 290.0 C399.3 319.5 445.7 344.7 500.0 370.0 C561.2 398.4 637.1 435.3 700.0 450.0 C752.6 462.3 805.3 465.1 850.0 462.0 C886.9 459.5 914.0 452.2 950.0 440.0 C995.7 424.5 1047.5 399.1 1100.0 370.0 C1163.0 335.0 1239.1 284.0 1300.0 240.0 C1354.6 200.5 1405.3 161.8 1450.0 120.0 C1491.2 81.5 1523.3 40.0 1560.0 0.0" stroke-width="3.0"/>
<path d="M160.0 30.0 C190.0 76.7 216.4 126.5 250.0 170.0 C283.2 213.1 323.3 250.0 360.0 290.0" stroke-width="3.0"/>
<path d="M1210.0 415.0 L1635.0 160.0" stroke-width="3.0"/>
<path d="M520.0 395.0 C518.3 456.7 526.7 528.7 515.0 580.0 C506.0 619.5 499.0 648.4 470.0 680.0 C423.2 731.1 299.2 824.7 220.0 820.0 C142.8 815.4 73.3 713.3 0.0 660.0" stroke-width="3.0"/>
<path d="M600.0 425.0 C600.0 470.0 607.0 516.9 600.0 560.0 C593.2 601.8 577.7 648.1 560.0 680.0 C546.1 705.0 536.0 718.1 510.0 740.0 C459.1 782.9 304.1 875.5 250.0 890.0 C227.9 895.9 221.0 896.2 200.0 890.0 C154.1 876.4 66.7 803.3 0.0 760.0" stroke-width="3.0"/>
<path d="M175.0 580.0 L415.0 440.0" stroke-width="3.0"/>
<path d="M0.0 400.0 C20.0 433.3 42.0 464.5 60.0 500.0 C79.0 537.5 100.8 584.8 110.0 620.0 C116.7 645.9 115.3 666.7 118.0 690.0" stroke-width="3.0"/>
<path d="M120.0 900.0 L120.0 1078.0" stroke-width="3.0"/>
<path d="M120.0 1078.0 L685.0 735.0" stroke-width="3.0"/>
<path d="M0.0 1010.0 L120.0 1078.0" stroke-width="3.0"/>
<path d="M1405.0 1030.0 L1000.0 590.0 L870.0 450.0 L520.0 70.0" stroke-width="3.5"/>
<path d="M520.0 70.0 L579.3 104.3 L549.3 132.0 Z" fill="#202020" stroke-width="1"/>
</g>
<g transform="translate(1440 580) scale(0.244648)">
<path d="M510.0 265.0 C573.3 284.0 636.4 299.8 700.0 322.0 C766.3 345.2 834.2 371.2 900.0 402.0 C967.6 433.6 1040.1 473.6 1100.0 510.0 C1151.7 541.4 1193.3 573.3 1240.0 605.0" stroke-width="3.3"/>
</g>
<g transform="translate(1440 980) scale(0.244648)">
<path d="M0.0 690.0 C100.0 723.3 200.8 752.1 300.0 790.0 C400.8 828.6 505.3 874.9 600.0 920.0 C687.9 961.8 772.7 1003.1 850.0 1050.0 C921.9 1093.6 987.9 1147.6 1050.0 1190.0 C1103.4 1226.5 1146.2 1266.6 1200.0 1290.0 C1253.0 1313.0 1313.3 1316.7 1370.0 1330.0" stroke-width="3.0"/>
<path d="M0.0 1000.0 C33.3 1033.3 59.1 1065.7 100.0 1100.0 C153.7 1145.0 226.9 1202.1 300.0 1240.0 C376.3 1279.5 463.4 1306.0 550.0 1330.0 C639.8 1354.8 763.0 1352.7 830.0 1385.0 C875.4 1406.9 901.0 1439.7 930.0 1470.0 C957.1 1498.3 980.9 1530.6 1000.0 1560.0 C1016.5 1585.4 1026.7 1610.0 1040.0 1635.0" stroke-width="3.0"/>
<path d="M1510.0 225.0 C1503.3 316.7 1500.4 406.5 1490.0 500.0 C1479.1 598.0 1463.9 710.6 1445.0 800.0 C1429.4 873.9 1411.2 937.6 1390.0 1000.0 C1370.7 1056.9 1346.7 1106.7 1325.0 1160.0" stroke-width="3.0"/>
<path d="M1445.0 1100.0 C1430.0 1166.7 1419.0 1238.8 1400.0 1300.0 C1383.1 1354.3 1363.3 1401.6 1340.0 1450.0 C1316.7 1498.3 1288.2 1558.0 1260.0 1590.0 C1240.7 1611.8 1220.0 1620.0 1200.0 1635.0" stroke-width="3.0"/>
<path d="M0.0 1205.0 L740.0 1635.0" stroke-width="3.0"/>
<path d="M0.0 1272.0 L570.0 1635.0" stroke-width="3.0"/>
<path d="M190.0 1635.0 L255.0 1470.0 L540.0 1635.0" stroke-width="3.0"/>
<path d="M1620.0 1395.0 L1560.0 1635.0" stroke-width="3.0"/>
</g>
<g transform="translate(1840 1380) scale(0.244648)">
<path d="M0.0 680.0 C26.7 706.7 60.2 727.9 80.0 760.0 C101.0 793.9 112.2 835.9 120.0 880.0 C129.1 931.1 127.8 991.1 125.0 1050.0 C122.0 1114.1 114.1 1186.7 100.0 1250.0 C86.8 1309.6 63.8 1371.2 45.0 1420.0 C30.3 1458.2 15.0 1486.7 0.0 1520.0" stroke-width="3.0"/>
<path d="M45.0 1420.0 C41.7 1453.3 34.5 1485.5 35.0 1520.0 C35.6 1557.0 45.0 1596.7 50.0 1635.0" stroke-width="3.0"/>
</g>
<g transform="translate(1840 1780) scale(0.244648)">
<path d="M48.0 0.0 L48.0 130.0 L0.0 165.0" stroke-width="3.0"/>
<g stroke="#c8c8c8">
<path d="M115.0 310.0 C160.0 336.7 201.5 365.8 250.0 390.0 C302.5 416.2 375.8 441.4 420.0 460.0 C448.5 472.0 486.4 474.7 490.0 490.0 C493.9 506.9 440.8 533.1 430.0 560.0 C419.3 586.6 422.4 618.7 425.0 650.0 C427.9 685.0 437.7 733.3 450.0 760.0 C458.2 777.8 470.0 786.7 480.0 800.0" stroke-width="1.2"/>
</g>
</g>
<g transform="translate(1840 580) scale(0.244648)">

</g>
<g transform="translate(1840 980) scale(0.244648)">
<path d="M88.0 1080.0 L40.0 1250.0 L0.0 1390.0" stroke-width="3.0"/>
</g>
<g transform="translate(640 1380) scale(0.244648)">
<path d="M488.0 0.0 C502.0 40.0 509.5 81.5 530.0 120.0 C552.3 161.8 584.6 206.5 620.0 240.0 C654.8 272.9 702.1 298.7 740.0 320.0 C771.4 337.7 795.5 344.8 830.0 362.0 C878.0 385.9 943.0 419.8 1000.0 452.0 C1059.6 485.6 1119.0 524.1 1180.0 560.0 C1242.3 596.7 1306.7 633.3 1370.0 670.0" stroke-width="3.0"/>
<circle cx="205.0" cy="455.0" r="100.0" stroke-width="3.0"/>
<path d="M310.0 502.0 C546.7 710.7 931.5 1079.6 1020.0 1128.0 C1037.4 1137.5 1038.4 1139.7 1055.0 1138.0 C1102.6 1133.2 1267.4 1046.5 1320.0 1000.0 C1350.0 973.5 1363.9 951.0 1375.0 920.0 C1387.3 885.4 1386.9 826.6 1385.0 800.0 C1384.0 786.6 1380.3 780.0 1378.0 770.0" stroke-width="3.0"/>
<path d="M265.0 550.0 C505.0 763.3 871.1 1115.5 985.0 1190.0 C1016.0 1210.3 1028.4 1218.0 1050.0 1220.0 C1070.1 1221.9 1083.4 1215.3 1110.0 1205.0 C1171.4 1181.3 1342.3 1099.5 1400.0 1050.0 C1431.8 1022.7 1447.5 999.9 1460.0 970.0 C1472.6 939.9 1474.1 898.9 1475.0 870.0 C1475.7 848.1 1471.7 831.3 1470.0 812.0" stroke-width="3.0"/>
<path d="M545.0 410.0 L600.0 375.0 L715.0 455.0 L715.0 495.0 L665.0 520.0 L548.0 460.0 Z" stroke-width="3.0"/>
<path d="M545.0 410.0 L665.0 475.0 L715.0 455.0" stroke-width="3.0"/>
<path d="M665.0 475.0 L665.0 520.0" stroke-width="3.0"/>
<path d="M645.0 400.0 L730.0 345.0" stroke-width="3.0"/>
<path d="M690.0 410.0 L760.0 365.0" stroke-width="3.0"/>
<path d="M775.0 325.0 C793.3 322.7 807.0 315.9 830.0 318.0 C870.6 321.6 940.0 352.7 995.0 370.0" stroke-width="3.0"/>
<path d="M800.0 355.0 L1015.0 405.0" stroke-width="3.0"/>
<path d="M1050.0 385.0 L1350.0 485.0" stroke-width="3.0"/>
<path d="M1085.0 430.0 L1345.0 515.0" stroke-width="3.0"/>
<path d="M1405.0 495.0 L1635.0 580.0" stroke-width="3.0"/>
<path d="M1400.0 530.0 L1635.0 605.0" stroke-width="3.0"/>
<path d="M970.0 265.0 C986.7 310.0 998.8 359.6 1020.0 400.0 C1039.5 437.2 1061.9 471.0 1090.0 500.0 C1118.4 529.4 1156.7 550.0 1190.0 575.0" stroke-width="3.0"/>
<path d="M1370.0 210.0 L1385.0 760.0" stroke-width="3.0"/>
<path d="M1370.0 200.0 L1520.0 120.0" stroke-width="3.0"/>
<path d="M1380.0 210.0 L1515.0 290.0" stroke-width="3.0"/>
<path d="M1385.0 765.0 L1490.0 815.0 L1635.0 888.0" stroke-width="3.0"/>
<path d="M1515.0 885.0 L1525.0 1635.0" stroke-width="3.0"/>
<path d="M1515.0 885.0 L1545.0 868.0 L1635.0 925.0" stroke-width="3.0"/>
<path d="M1520.0 0.0 C1523.3 50.0 1521.2 102.3 1530.0 150.0 C1538.4 195.4 1551.6 240.7 1570.0 280.0 C1587.2 316.8 1613.3 346.7 1635.0 380.0" stroke-width="3.0"/>
<g transform="translate(1285.0 70.0) rotate(-30.0)"><rect x="-45.0" y="-37.5" width="90.0" height="75.0" rx="34.090909090909086" ry="37.5" stroke-width="3.0"/><path d="M0.0 -37.5 Q-18.75 0 0.0 37.5" stroke-width="3.0"/></g>
<path d="M1340.0 50.0 L1420.0 0.0" stroke-width="3.0"/>
</g>
<g transform="translate(640 1780) scale(0.244648)">
<g transform="translate(1405.0 280.0) rotate(-30.0)"><rect x="-75.0" y="-42.5" width="150.0" height="85.0" rx="38.63636363636363" ry="42.5" stroke-width="3.0"/><path d="M-25.0 -42.5 Q-46.25 0 -25.0 42.5" stroke-width="3.0"/><path d="M25.0 -42.5 Q3.75 0 25.0 42.5" stroke-width="3.0"/></g>
<g transform="translate(1570.0 370.0) rotate(-30.0)"><rect x="-75.0" y="-42.5" width="150.0" height="85.0" rx="38.63636363636363" ry="42.5" stroke-width="3.0"/><path d="M-25.0 -42.5 Q-46.25 0 -25.0 42.5" stroke-width="3.0"/><path d="M25.0 -42.5 Q3.75 0 25.0 42.5" stroke-width="3.0"/></g>
<path d="M1480.0 240.0 C1506.7 225.0 1533.0 205.0 1560.0 195.0 C1584.7 185.9 1610.0 185.0 1635.0 180.0" stroke-width="3.0"/>
<path d="M1340.0 320.0 C1323.3 346.7 1301.9 374.3 1290.0 400.0 C1280.1 421.3 1262.1 451.1 1270.0 462.0 C1278.8 474.0 1322.0 465.0 1350.0 462.0 C1381.7 458.6 1421.4 450.1 1450.0 440.0 C1473.1 431.8 1490.0 420.0 1510.0 410.0" stroke-width="3.0"/>
<path d="M1270.0 465.0 C1230.0 500.0 1189.0 532.0 1150.0 570.0 C1108.9 610.0 1061.6 652.3 1030.0 700.0 C999.5 746.0 976.1 798.9 962.0 850.0 C948.5 899.0 938.7 958.5 945.0 1000.0 C949.8 1031.6 960.7 1058.8 980.0 1080.0 C1001.0 1103.1 1036.3 1116.3 1070.0 1130.0 C1108.5 1145.6 1156.7 1153.3 1200.0 1165.0" stroke-width="3.0"/>
<path d="M1635.0 595.0 C1590.0 601.7 1545.7 604.1 1500.0 615.0 C1450.8 626.7 1386.3 639.7 1350.0 665.0 C1321.7 684.7 1301.7 711.2 1290.0 740.0 C1278.0 769.4 1283.3 806.7 1280.0 840.0" stroke-width="3.0"/>
<path d="M1200.0 1020.0 L1365.0 1100.0 L1365.0 1410.0 L1200.0 1320.0 Z" stroke-width="3.0"/>
<circle cx="1420.0" cy="1320.0" r="14.0" stroke-width="3.0"/>
<circle cx="1065.0" cy="975.0" r="40.0" stroke-width="3.0"/>
<circle cx="1210.0" cy="880.0" r="36.0" stroke-width="3.0"/>
<path d="M1080.0 1090.0 C1083.3 1063.3 1078.7 1033.1 1090.0 1010.0 C1101.6 986.3 1126.4 956.5 1150.0 950.0 C1173.2 943.6 1203.3 963.3 1230.0 970.0" stroke-width="3.0"/>
<path d="M1240.0 960.0 C1260.0 923.3 1273.6 864.4 1300.0 850.0 C1319.8 839.2 1352.4 847.9 1370.0 855.0 C1383.2 860.3 1390.0 871.7 1400.0 880.0" stroke-width="3.0"/>
<path d="M1480.0 600.0 C1513.3 613.3 1552.4 624.7 1580.0 640.0 C1601.9 652.1 1616.7 666.7 1635.0 680.0" stroke-width="3.0"/>
<path d="M710.0 1570.0 L1168.0 1035.0" stroke-width="3.5"/>
<path d="M1168.0 1035.0 L1141.0 1098.0 L1109.9 1071.4 Z" fill="#202020" stroke-width="1"/>
<path d="M1200.0 1020.0 L1560.0 800.0 L1730.0 895.0 L1365.0 1100.0" stroke-width="3.5"/>
<path d="M1365.0 1410.0 L1730.0 1190.0 L1730.0 895.0" stroke-width="3.5"/>
</g>
<g transform="translate(640 580) scale(0.244648)">
<path d="M1635.0 1300.0 L1600.0 1635.0" stroke-width="3.0"/>
</g>
<g transform="translate(640 980) scale(0.244648)">
<circle cx="915.0" cy="370.0" r="48.0" stroke-width="3.0"/>
<circle cx="905.0" cy="372.0" r="28.0" stroke-width="3.0"/>
<path d="M865.0 395.0 C876.7 402.7 886.3 414.7 900.0 418.0 C915.7 421.8 936.7 414.0 955.0 412.0" stroke-width="3.0"/>
<path d="M820.0 325.0 C803.3 340.0 781.9 351.4 770.0 370.0 C757.5 389.4 748.1 418.1 748.0 440.0 C748.0 459.4 754.2 483.0 765.0 495.0 C774.4 505.4 791.7 506.3 805.0 512.0" stroke-width="3.0"/>
<path d="M805.0 512.0 C800.0 531.3 797.1 546.8 790.0 570.0 C779.0 605.8 757.6 676.9 742.0 705.0 C733.9 719.5 721.3 723.7 718.0 735.0 C714.8 746.1 715.8 762.2 722.0 772.0 C728.8 782.7 745.5 791.7 760.0 795.0 C776.1 798.7 801.6 797.4 815.0 790.0 C826.1 783.9 830.3 770.0 838.0 760.0" stroke-width="3.0"/>
<path d="M890.0 415.0 C880.0 450.0 872.7 481.6 860.0 520.0 C844.2 568.0 816.4 635.0 800.0 680.0 C788.1 712.7 780.0 736.7 770.0 765.0" stroke-width="3.0"/>
<path d="M950.0 315.0 C966.0 333.3 989.6 347.6 998.0 370.0 C1007.3 394.9 1003.8 427.8 998.0 460.0 C990.9 500.0 968.0 543.9 950.0 590.0 C929.3 643.1 903.4 708.6 880.0 760.0 C860.0 803.9 837.4 850.0 820.0 880.0 C809.0 899.0 800.0 910.0 790.0 925.0" stroke-width="3.0"/>
<path d="M722.0 790.0 C703.0 840.0 681.6 893.7 665.0 940.0 C650.9 979.4 628.9 1021.3 628.0 1050.0 C627.4 1068.2 629.7 1085.6 640.0 1095.0 C651.8 1105.7 680.0 1101.7 700.0 1105.0" stroke-width="3.0"/>
<path d="M772.0 800.0 C749.7 858.3 721.0 928.6 705.0 975.0 C694.7 1005.0 677.6 1031.1 682.0 1050.0 C685.3 1064.1 698.1 1071.8 712.0 1082.0 C732.7 1097.3 772.3 1107.3 800.0 1125.0 C828.4 1143.1 857.3 1163.2 880.0 1190.0 C904.6 1219.0 920.0 1260.0 940.0 1295.0" stroke-width="3.0"/>
<path d="M795.0 808.0 C776.7 848.7 750.9 893.6 740.0 930.0 C731.8 957.4 722.2 985.7 728.0 1005.0 C732.6 1020.2 749.3 1028.3 760.0 1040.0" stroke-width="3.0"/>
<path d="M755.0 940.0 C770.0 936.0 779.4 930.6 800.0 928.0 C842.7 922.6 953.4 920.4 1000.0 930.0 C1026.5 935.4 1038.7 945.3 1060.0 955.0 C1084.9 966.4 1113.3 981.7 1140.0 995.0" stroke-width="3.0"/>
<path d="M820.0 942.0 L950.0 1020.0" stroke-width="3.0"/>
<path d="M860.0 935.0 L990.0 1015.0" stroke-width="3.0"/>
<path d="M900.0 935.0 L1030.0 1012.0" stroke-width="3.0"/>
<path d="M940.0 935.0 L1070.0 1008.0" stroke-width="3.0"/>
<path d="M980.0 938.0 L1110.0 1003.0" stroke-width="3.0"/>
<path d="M1020.0 945.0 L1140.0 995.0" stroke-width="3.0"/>
<path d="M760.0 940.0 C751.7 955.0 740.3 968.7 735.0 985.0 C729.5 1001.9 730.3 1021.7 728.0 1040.0" stroke-width="3.0"/>
<path d="M730.0 1045.0 C750.0 1040.0 770.1 1034.2 790.0 1030.0 C809.4 1025.9 828.7 1023.3 848.0 1020.0" stroke-width="3.0"/>
<path d="M730.0 1035.0 L775.0 1050.0 L765.0 1078.0 Z" stroke-width="3.0" fill="#202020"/>
<path d="M1035 480 L1545 490 L1610 505 L1632 570 L1610 640 L1560 655 L1300 620 L1215 600 L1185 560 L1120 545 L1040 545 L1012 520 Z" fill="#efefef" stroke="none"/>
<path d="M1035.0 480.0 C1090.0 483.3 1134.9 488.0 1200.0 490.0 C1294.0 492.8 1430.0 490.0 1545.0 490.0" stroke-width="3.0"/>
<path d="M1545.0 490.0 C1566.7 495.0 1595.5 491.9 1610.0 505.0 C1624.7 518.3 1631.8 547.9 1632.0 570.0 C1632.2 592.9 1624.1 626.1 1610.0 640.0 C1598.1 651.7 1576.7 650.0 1560.0 655.0" stroke-width="3.0"/>
<path d="M1560.0 655.0 C1473.3 643.3 1362.9 631.6 1300.0 620.0 C1263.7 613.3 1234.7 612.9 1215.0 600.0 C1200.1 590.2 1199.1 569.2 1185.0 560.0 C1168.8 549.4 1142.9 547.6 1120.0 545.0 C1094.9 542.1 1066.7 545.0 1040.0 545.0" stroke-width="3.0"/>
<path d="M1195.0 490.0 L1195.0 575.0" stroke-width="3.0"/>
<path d="M1035.0 480.0 C1027.3 493.3 1017.7 503.7 1012.0 520.0 C1004.5 541.5 997.3 579.1 1000.0 600.0 C1001.8 614.4 1010.0 623.3 1015.0 635.0" stroke-width="3.0"/>
<path d="M1010.0 540.0 L1120.0 545.0" stroke-width="3.0"/>
<path d="M1030.0 735.0 L1350.0 915.0" stroke-width="3.0"/>
<path d="M1330.0 650.0 C1340.0 696.7 1345.8 746.9 1360.0 790.0 C1373.1 829.6 1392.9 859.1 1410.0 900.0 C1431.0 950.2 1453.3 1013.3 1475.0 1070.0" stroke-width="3.0"/>
<path d="M1475.0 1070.0 L1635.0 985.0" stroke-width="3.0"/>
<path d="M1475.0 1070.0 L1530.0 930.0 L1635.0 870.0" stroke-width="3.0"/>
<path d="M1500.0 700.0 L1570.0 860.0" stroke-width="3.0"/>
<path d="M1545.0 670.0 L1635.0 690.0" stroke-width="3.0"/>
<path d="M1520.0 770.0 L1635.0 740.0" stroke-width="3.0"/>
<path d="M1560.0 860.0 L1635.0 840.0" stroke-width="3.0"/>
<path d="M600.0 1205.0 C604.0 1181.7 602.1 1153.1 612.0 1135.0 C620.4 1119.5 634.8 1105.6 650.0 1100.0 C665.7 1094.2 686.7 1101.3 705.0 1102.0" stroke-width="3.0"/>
<path d="M690.0 1130.0 L725.0 1160.0" stroke-width="3.0"/>
<path d="M705.0 1175.0 L745.0 1250.0" stroke-width="3.0"/>
<path d="M700.0 1105.0 C733.3 1123.3 769.4 1139.4 800.0 1160.0 C829.1 1179.6 856.9 1201.5 880.0 1225.0 C901.4 1246.8 916.7 1271.7 935.0 1295.0" stroke-width="3.0"/>
<path d="M940.0 1300.0 C961.7 1291.7 986.5 1285.2 1005.0 1275.0 C1020.6 1266.3 1031.7 1255.0 1045.0 1245.0" stroke-width="3.0"/>
<path d="M950.0 1310.0 C953.3 1326.7 950.5 1347.6 960.0 1360.0 C969.9 1373.0 992.8 1380.9 1010.0 1385.0 C1026.2 1388.8 1043.3 1385.0 1060.0 1385.0" stroke-width="3.0"/>
<path d="M1180.0 1190.0 C1200.0 1191.7 1222.1 1187.2 1240.0 1195.0 C1259.0 1203.2 1271.6 1230.0 1290.0 1240.0 C1306.9 1249.2 1320.1 1257.5 1345.0 1255.0 C1404.4 1249.1 1538.3 1158.3 1635.0 1110.0" stroke-width="3.0"/>
<path d="M1190.0 1305.0 C1210.0 1296.7 1229.7 1286.7 1250.0 1280.0 C1269.8 1273.5 1290.0 1270.0 1310.0 1265.0" stroke-width="3.0"/>
<path d="M600.0 1220.0 C611.7 1250.0 621.8 1277.4 635.0 1310.0 C651.0 1349.5 672.6 1409.8 690.0 1440.0 C700.3 1458.0 710.0 1466.7 720.0 1480.0" stroke-width="3.0"/>
<path d="M620.0 1225.0 L760.0 1300.0" stroke-width="3.0"/>
<path d="M630.0 1290.0 L775.0 1365.0" stroke-width="3.0"/>
<path d="M650.0 1350.0 L790.0 1420.0" stroke-width="3.0"/>
<path d="M670.0 1400.0 L800.0 1470.0" stroke-width="3.0"/>
<path d="M690.0 1450.0 L825.0 1510.0" stroke-width="3.0"/>
<path d="M710.0 1490.0 L870.0 1570.0" stroke-width="3.0"/>
<path d="M600.0 1218.0 C580.0 1245.3 556.5 1268.7 540.0 1300.0 C521.6 1335.0 507.7 1379.5 498.0 1420.0 C488.6 1459.5 483.9 1502.3 482.0 1540.0 C480.3 1573.4 484.0 1603.3 485.0 1635.0" stroke-width="3.0"/>
<path d="M1635.0 1370.0 C1618.3 1393.3 1599.4 1413.6 1585.0 1440.0 C1568.9 1469.5 1554.7 1506.6 1545.0 1540.0 C1535.8 1571.6 1533.0 1603.3 1527.0 1635.0" stroke-width="3.0"/>
<path d="M1590.0 1465.0 L1635.0 1440.0" stroke-width="3.0"/>
<path d="M1320.0 1545.0 C1360.0 1545.0 1402.1 1552.8 1440.0 1545.0 C1477.0 1537.4 1510.0 1515.0 1545.0 1500.0" stroke-width="3.0"/>
<g transform="translate(1108.0 1222.0) rotate(-28.0)"><rect x="-67.5" y="-40.0" width="135.0" height="80.0" rx="36.36363636363636" ry="40.0" stroke-width="3.0"/><path d="M-22.5 -40.0 Q-42.5 0 -22.5 40.0" stroke-width="3.0"/><path d="M22.5 -40.0 Q2.5 0 22.5 40.0" stroke-width="3.0"/></g>
<g transform="translate(1125.0 1350.0) rotate(-28.0)"><rect x="-67.5" y="-40.0" width="135.0" height="80.0" rx="36.36363636363636" ry="40.0" stroke-width="3.0"/><path d="M-22.5 -40.0 Q-42.5 0 -22.5 40.0" stroke-width="3.0"/><path d="M22.5 -40.0 Q2.5 0 22.5 40.0" stroke-width="3.0"/></g>
<g transform="translate(1283.0 1578.0) rotate(-30.0)"><rect x="-45.0" y="-37.5" width="90.0" height="75.0" rx="34.090909090909086" ry="37.5" stroke-width="3.0"/><path d="M0.0 -37.5 Q-18.75 0 0.0 37.5" stroke-width="3.0"/></g>
</g>
</g>
</svg>
</body></html>
